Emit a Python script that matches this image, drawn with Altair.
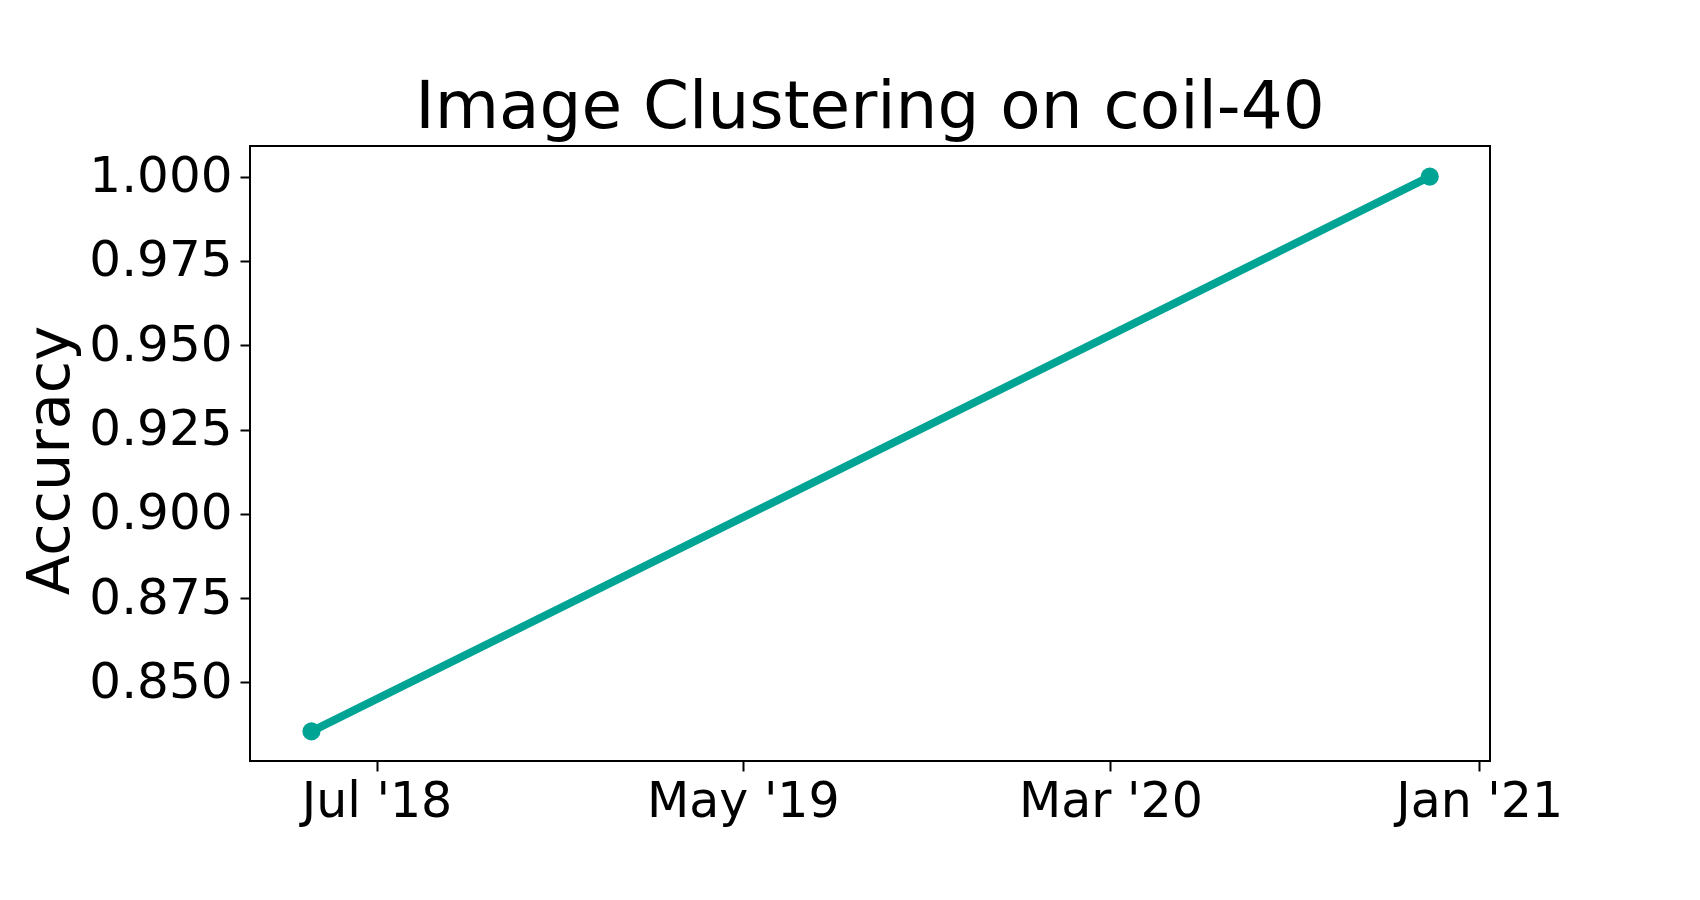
import altair as alt
import pandas as pd

dates = ["2018-05-08", "2020-11-21"]
accuracy = [0.8355, 1.000]
x_ticks = [(2018, 7), (2019, 5), (2020, 3), (2021, 1)]
y_ticks = [0.850, 0.875, 0.900, 0.925, 0.950, 0.975, 1.000]

df = pd.DataFrame({"date": dates, "acc": accuracy})

FONT = "DejaVu Sans"
COLOR = "#00a494"

x = alt.X(
    "date:T",
    scale=alt.Scale(
        type="utc",
        domain=[alt.DateTime(year=2018, month=3, date=18, utc=True),
                alt.DateTime(year=2021, month=1, date=10, utc=True)],
    ),
    axis=alt.Axis(
        values=[alt.DateTime(year=y, month=m, date=1, utc=True) for y, m in x_ticks],
        format="%b '%y",
        title=None,
        grid=False,
        domain=False,
        tickColor="black",
        tickWidth=2,
        tickSize=10,
        labelFontSize=49,
        labelFont=FONT,
        labelColor="black",
        labelPadding=6,
        labelFlush=False,
        labelLimit=0,
        labelOverlap=False,
    ),
)
y = alt.Y(
    "acc:Q",
    scale=alt.Scale(domain=[0.8267, 1.0091], nice=False, zero=False),
    axis=alt.Axis(
        values=y_ticks,
        format=".3f",
        title="Accuracy",
        titleFont=FONT,
        titleFontSize=59,
        titleFontWeight="normal",
        titleColor="black",
        titleAngle=270,
        titleBaseline="alphabetic",
        titleAlign="center",
        titleX=-182,
        titleY=314,
        grid=False,
        domain=False,
        tickColor="black",
        tickWidth=2,
        tickSize=10,
        labelFontSize=50,
        labelFont=FONT,
        labelColor="black",
        labelPadding=8,
        labelFlush=False,
        labelLimit=0,
    ),
)

chart = (
    alt.Chart(df)
    .mark_line(
        color=COLOR,
        strokeWidth=8,
        point=alt.OverlayMarkDef(size=330, filled=True, color=COLOR, opacity=1),
    )
    .encode(x=x, y=y)
    .properties(
        width=1240,
        height=615,
        background="white",
        title=alt.TitleParams(
            "Image Clustering on coil-40",
            font=FONT,
            fontSize=66,
            fontWeight="normal",
            color="black",
            anchor="middle",
            frame="group",
            offset=4,
        ),
        autosize=alt.AutoSizeParams(type="none"),
        padding={"left": 242, "top": 138, "right": 200, "bottom": 125},
    )
    .configure_view(stroke="black", strokeWidth=2)
)

chart.save("out.html", embed_options={"renderer": "svg", "actions": False})
